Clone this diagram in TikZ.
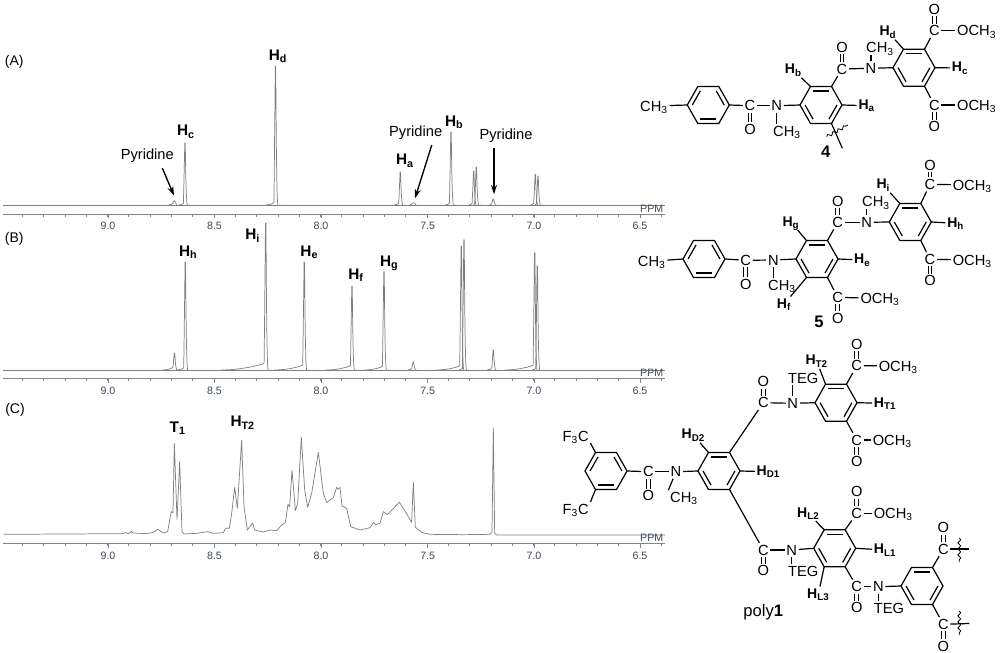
\documentclass[tikz,border=0pt]{standalone}
\usepackage{fontspec}
\setmainfont{Liberation Sans}
\usetikzlibrary{calc,arrows.meta,decorations.pathmorphing}

\definecolor{speccol}{HTML}{808080}
\definecolor{axiscol}{HTML}{858585}
\definecolor{tickcol}{HTML}{3C4856}

\tikzset{
  spec/.style={speccol, line width=.55pt, line join=round},
  axisline/.style={axiscol, line width=.5pt},
  ticklabel/.style={tickcol, inner sep=0pt, font=\fontsize{8}{9}\selectfont},
  panel/.style={inner sep=0pt, font=\fontsize{10.5}{12}\selectfont},
  solvent/.style={inner sep=1pt, font=\fontsize{11}{13}\selectfont},
  peaklabel/.style={inner sep=0pt, font=\bfseries\fontsize{11.5}{13}\selectfont},
  arr/.style={-{Stealth[length=7pt,width=4.5pt]}, line width=1pt, shorten <=3pt},
  bond/.style={line width=.9pt, line join=round},
  dbond/.style={line width=.75pt, double, double distance=2.2pt},
  wavy/.style={line width=.6pt, decorate, decoration={snake, amplitude=1.1pt, segment length=4.5pt}},
  atom/.style={inner sep=1.2pt, text height=7.9pt, text depth=0pt, font=\fontsize{11}{13}\selectfont},
  hatom/.style={inner sep=1.2pt, text height=7.4pt, text depth=1.5pt, font=\bfseries\fontsize{10.5}{12}\selectfont},
  cmpd/.style={inner sep=0pt, font=\fontsize{12.5}{14}\selectfont},
}

% hexagon, vertices a..f run round from the right, m is the middle
\newcommand{\molring}[4]{%
  \coordinate (#1m) at (#2,#3);
  \coordinate (#1a) at (#2+21,#3);
  \coordinate (#1b) at (#2+10.5,#3-18.5);
  \coordinate (#1c) at (#2-10.5,#3-18.5);
  \coordinate (#1d) at (#2-21,#3);
  \coordinate (#1e) at (#2-10.5,#3+18.5);
  \coordinate (#1f) at (#2+10.5,#3+18.5);
  \draw[bond] (#1a) -- (#1b) -- (#1c) -- (#1d) -- (#1e) -- (#1f) -- cycle;
  \foreach \p/\q in {#4}
    \draw[bond] ($(#1m)!.76!(#1\p)$) -- ($(#1m)!.76!(#1\q)$);
}
% one NMR line: x, top, baseline, length of left tail
\newcommand{\nmrpeak}[4]{%
  \pgfmathsetmacro\knee{#3-1.2-.12*#4}
  \draw[spec] (#1-#4,#3) .. controls (#1-.5*#4,#3) and (#1-2.5,\knee+.7) .. (#1-1.6,\knee)
    .. controls (#1-1.1,.7*\knee+.3*#2) and (#1-.6,.3*\knee+.7*#2) .. (#1-.2,#2)
    -- (#1+.2,#2) .. controls (#1+.6,.3*\knee+.7*#2) and (#1+.9,#3-2) .. (#1+2.5,#3+.6) -- (#1+5,#3);
}
% axis under a spectrum: name, y
\newcommand{\ppmaxis}[2]{%
  \draw[axisline] (3,#2) -- (665,#2);
  \foreach \i in {0,...,30}
    \draw[axisline] (22.3+21.3*\i,#2) -- (22.3+21.3*\i,#2+2.5);
  \foreach \v/\t/\n in {108/9.0/90,214.5/8.5/85,321/8.0/80,427.7/7.5/75,534/7.0/70,640/6.5/65}{
    \draw[axisline] (\v,#2) -- (\v,#2+4);
    \node[ticklabel] (#1\n) at (\v,#2+12) {\t};
  }
  \node[ticklabel] (#1ppm) at (651.7,#2-5.5) {PPM};
}

\begin{document}
\begin{tikzpicture}[x=.75pt,y=-.75pt]
\useasboundingbox (0,0) rectangle (1000,653);

%%%----------Spektrum A----------%%%
\draw[spec] (3,205) -- (665,205);
\nmrpeak{174.5}{200.7}{205}{6}
\nmrpeak{185}{143}{205}{6}
\nmrpeak{275.5}{66}{205}{10}
\nmrpeak{400.3}{172}{205}{6}
\nmrpeak{413.7}{202.7}{205}{4}
\nmrpeak{451}{132}{205}{6}
\nmrpeak{473.7}{171}{205}{5}
\nmrpeak{476.3}{167}{205}{3}
\nmrpeak{493.3}{199}{205}{4}
\nmrpeak{535.3}{174.3}{205}{5}
\nmrpeak{538}{176}{205}{3}
\ppmaxis{axa}{214}

\node[panel] (panela) at (14.3,62) {(A)};
\node[peaklabel] (hd) at (278,56) {H\textsubscript{d}};
\node[peaklabel] (hc) at (186,131.7) {H\textsubscript{c}};
\node[peaklabel] (ha) at (405,160.7) {H\textsubscript{a}};
\node[peaklabel] (hb) at (454.3,122.3) {H\textsubscript{b}};
\node[solvent] (pya) at (147.3,156) {Pyridine};
\node[solvent] (pyb) at (415.7,132.7) {Pyridine};
\node[solvent] (pyc) at (506,136) {Pyridine};
\coordinate (pyaend) at (174,195.7);
\coordinate (pybend) at (415,198.3);
\coordinate (pycend) at (494,194.3);
\draw[arr] (pya.-32) -- (pyaend);
\draw[arr] (pyb.-26) -- (pybend);
\draw[arr] (pyc.south -| pycend) -- (pycend);

%%%----------Spektrum B----------%%%
\draw[spec] (3,370) -- (665,370);
\nmrpeak{174.5}{353}{370}{12}
\nmrpeak{185.3}{262}{370}{9}
\nmrpeak{265.7}{223}{370}{45}
\nmrpeak{304.3}{262}{370}{30}
\nmrpeak{352}{286}{370}{26}
\nmrpeak{384}{271.7}{370}{20}
\nmrpeak{413.3}{361.7}{370}{5}
\nmrpeak{461.3}{246}{370}{25}
\nmrpeak{464}{239.7}{370}{5}
\nmrpeak{493.3}{350}{370}{6}
\nmrpeak{534.7}{252.7}{370}{30}
\nmrpeak{537.3}{266}{370}{5}
\ppmaxis{axb}{378.7}

\node[panel] (panelb) at (14.3,239) {(B)};
\node[peaklabel] (hh) at (188.3,252.3) {H\textsubscript{h}};
\node[peaklabel] (hi) at (252.7,235.7) {H\textsubscript{i}};
\node[peaklabel] (he) at (309.3,252.3) {H\textsubscript{e}};
\node[peaklabel] (hf) at (356,275) {H\textsubscript{f}};
\node[peaklabel] (hg) at (389.3,263.3) {H\textsubscript{g}};

%%%----------Spektrum C----------%%%
\begin{scope}[shift={(0,400)},x=.25pt,y=-.25pt]
\draw[spec] plot coordinates {(10,403) (370,401) (376,397) (384,401) (390,399) (394,394) (400,399)
  (440,401) (460,397) (474,388) (490,399) (503,395) (509,360) (514,335) (519,338) (523,130)
  (531,358) (539,185) (546,395) (552,402) (590,400) (622,395) (640,400) (670,398) (677,385)
  (688,385) (695,340) (704,262) (712,325) (725,120) (732,320) (742,390) (758,369) (764,390)
  (790,396) (812,390) (830,392) (845,375) (856,368) (864,313) (869,320) (876,210) (886,332)
  (893,310) (904,112) (914,270) (923,322) (935,280) (955,157) (970,280) (980,308) (990,300)};
\end{scope}
\begin{scope}[shift={(330,400)},x=.25pt,y=-.25pt]
\draw[spec] plot coordinates {(0,300) (10,293) (20,262) (24,268) (30,262) (36,318) (50,325)
  (62,380) (90,390) (120,383) (131,367) (136,374) (150,370) (160,335) (172,344) (208,307)
  (218,322) (232,345) (245,367) (250,247) (256,382) (275,397) (300,403) (400,404) (480,403)
  (486,395) (490,84) (494,400) (500,405) (1005,405)};
\end{scope}
\ppmaxis{axc}{543.7}

\node[panel] (panelc) at (15,410) {(C)};
\node[peaklabel] (t1) at (177.7,428.3) {T\textsubscript{1}};
\node[peaklabel] (ht2) at (242.7,422.7) {H\textsubscript{T2}};

%%%----------Molekyle 4----------%%%
\molring{qt}{708.3}{105}{c/d,a/b,e/f}
\molring{qm}{821}{105}{b/c,f/a,d/e}
\molring{qr}{914}{67.7}{b/c,f/a,d/e}

\node[atom] (qch) at (654,106) {CH\textsubscript{3}};
\node[atom] (qc1) at (750,105.7) {C};
\node[atom] (qo1) at (750,129) {O};
\node[atom] (qn1) at (776.7,105.7) {N};
\node[atom] (qm1) at (787,131) {CH\textsubscript{3}};
\node[atom] (qc2) at (842,69) {C};
\node[atom] (qo2) at (842,47.3) {O};
\node[atom] (qn2) at (871,68.3) {N};
\node[atom] (qm2) at (880,47.7) {CH\textsubscript{3}};
\node[atom] (qc3) at (934.3,30.7) {C};
\node[atom] (qo3) at (934.3,9.3) {O};
\node[atom] (qx3) at (976.7,30.7) {OCH\textsubscript{3}};
\node[atom] (qc4) at (934.3,105) {C};
\node[atom] (qo4) at (934.3,126.7) {O};
\node[atom] (qx4) at (976.7,105) {OCH\textsubscript{3}};
\node[hatom] (qhd) at (888,32) {H\textsubscript{d}};
\node[hatom] (qhc) at (960,68) {H\textsubscript{c}};
\node[hatom] (qhb) at (793.3,70) {H\textsubscript{b}};
\node[hatom] (qha) at (866.7,105.7) {H\textsubscript{a}};
\node[cmpd,font=\bfseries\fontsize{12.5}{14}\selectfont] (qlab) at (825.7,151.7) {4};
\coordinate (qcut) at (842.3,148.3);
\coordinate (qwa) at (826.7,136.7);
\coordinate (qwb) at (848,125);

\draw[bond] (qch) -- (qtd);
\draw[bond] (qta) -- (qc1);
\draw[dbond] (qc1) -- (qo1);
\draw[bond] (qc1) -- (qn1);
\draw[bond] (qn1) -- (qmd);
\draw[bond] (qn1) -- (qn1 |- qm1.north);
\draw[bond] (qmb) -- (qc2);
\draw[dbond] (qc2) -- (qo2);
\draw[bond] (qc2) -- (qn2);
\draw[bond] (qn2) -- (qn2 |- qm2.south);
\draw[bond] (qn2) -- (qrd);
\draw[bond] (qrb) -- (qc3);
\draw[dbond] (qc3) -- (qo3);
\draw[bond] (qc3) -- (qx3);
\draw[bond] (qrf) -- (qc4);
\draw[dbond] (qc4) -- (qo4);
\draw[bond] (qc4) -- (qx4);
\draw[bond] (qrc) -- (qhd);
\draw[bond] (qra) -- (qhc);
\draw[bond] (qmc) -- (qhb);
\draw[bond] (qma) -- (qha);
\draw[bond] (qmf) -- (qcut);
\draw[wavy] (qwa) -- (qwb);

%%%----------Molekyle 5----------%%%
\molring{ft}{704}{259}{c/d,a/b,e/f}
\molring{fm}{817}{259}{b/c,f/a,d/e}
\molring{fr}{910.3}{222}{b/c,f/a,d/e}

\node[atom] (fch) at (651.7,261.3) {CH\textsubscript{3}};
\node[atom] (fc1) at (745.7,260.3) {C};
\node[atom] (fo1) at (745.7,284) {O};
\node[atom] (fn1) at (773.3,260) {N};
\node[atom] (fm1) at (782,285) {CH\textsubscript{3}};
\node[atom] (fc2) at (837.7,222.3) {C};
\node[atom] (fo2) at (837.7,201) {O};
\node[atom] (fn2) at (866.7,222.3) {N};
\node[atom] (fm2) at (876,201.7) {CH\textsubscript{3}};
\node[atom] (fc3) at (930,184.3) {C};
\node[atom] (fo3) at (930,165) {O};
\node[atom] (fx3) at (972.3,185) {OCH\textsubscript{3}};
\node[atom] (fc4) at (930,259.3) {C};
\node[atom] (fo4) at (930,280.7) {O};
\node[atom] (fx4) at (972.3,260) {OCH\textsubscript{3}};
\node[atom] (fc5) at (837.7,297.3) {C};
\node[atom] (fo5) at (837.7,318.3) {O};
\node[atom] (fx5) at (880,298.5) {OCH\textsubscript{3}};
\node[hatom] (fhg) at (791,222.3) {H\textsubscript{g}};
\node[hatom] (fhe) at (862.3,260) {H\textsubscript{e}};
\node[hatom] (fhf) at (784,304.3) {H\textsubscript{f}};
\node[hatom] (fhi) at (883.3,185) {H\textsubscript{i}};
\node[hatom] (fhh) at (955.7,223.3) {H\textsubscript{h}};
\node[cmpd,font=\bfseries\fontsize{12.5}{14}\selectfont] (flab) at (819,321.7) {5};

\draw[bond] (fch) -- (ftd);
\draw[bond] (fta) -- (fc1);
\draw[dbond] (fc1) -- (fo1);
\draw[bond] (fc1) -- (fn1);
\draw[bond] (fn1) -- (fmd);
\draw[bond] (fn1) -- (fn1 |- fm1.north);
\draw[bond] (fmb) -- (fc2);
\draw[dbond] (fc2) -- (fo2);
\draw[bond] (fc2) -- (fn2);
\draw[bond] (fn2) -- (fn2 |- fm2.south);
\draw[bond] (fn2) -- (frd);
\draw[bond] (frb) -- (fc3);
\draw[dbond] (fc3) -- (fo3);
\draw[bond] (fc3) -- (fx3);
\draw[bond] (frf) -- (fc4);
\draw[dbond] (fc4) -- (fo4);
\draw[bond] (fc4) -- (fx4);
\draw[bond] (fmf) -- (fc5);
\draw[dbond] (fc5) -- (fo5);
\draw[bond] (fc5) -- (fx5);
\draw[bond] (fmc) -- (fhg);
\draw[bond] (fma) -- (fhe);
\draw[bond] (fme) -- (fhf);
\draw[bond] (frc) -- (fhi);
\draw[bond] (fra) -- (fhh);

%%%----------poly1----------%%%
\molring{pt}{606}{471}{c/d,a/b,e/f}
\molring{pm}{719}{471}{b/c,f/a,d/e}
\molring{pu}{836}{402.7}{b/c,f/a,d/e}
\molring{pl}{834.7}{548.3}{b/c,f/a,d/e}
\molring{pe}{922}{586}{b/c,f/a,d/e}

\node[atom] (pf1) at (575.7,436) {F\textsubscript{3}C};
\node[atom] (pf2) at (575.7,509) {F\textsubscript{3}C};
\node[atom] (pc1) at (648.3,471.7) {C};
\node[atom] (po1) at (648.3,495.7) {O};
\node[atom] (pn1) at (676,471.7) {N};
\node[atom] (pm1) at (684,497.3) {CH\textsubscript{3}};
\node[hatom] (phd2) at (693.3,435) {H\textsubscript{D2}};
\node[hatom] (phd1) at (768.3,471.7) {H\textsubscript{D1}};
% oberer Zweig
\node[atom] (pc2) at (763.3,402.7) {C};
\node[atom] (po2) at (763.3,381.7) {O};
\node[atom] (pn2) at (792.7,403.3) {N};
\node[atom] (pg2) at (803.3,378.3) {TEG};
\node[hatom] (pht2) at (816.7,361) {H\textsubscript{T2}};
\node[hatom] (pht1) at (885,403.3) {H\textsubscript{T1}};
\node[atom] (pc3) at (856.7,365.7) {C};
\node[atom] (po3) at (856.7,344.3) {O};
\node[atom] (px3) at (898.3,366) {OCH\textsubscript{3}};
\node[atom] (pc4) at (856.7,440) {C};
\node[atom] (po4) at (856.7,461.7) {O};
\node[atom] (px4) at (892.3,440) {OCH\textsubscript{3}};
% unterer Zweig
\node[atom] (pc5) at (763.3,550) {C};
\node[atom] (po5) at (763.3,570.7) {O};
\node[atom] (pn5) at (791.7,550) {N};
\node[atom] (pg5) at (803.3,571) {TEG};
\node[hatom] (phl2) at (808.3,513.3) {H\textsubscript{L2}};
\node[hatom] (phl1) at (885,550) {H\textsubscript{L1}};
\node[hatom] (phl3) at (818.3,594.3) {H\textsubscript{L3}};
\node[atom] (pc6) at (856.7,513.3) {C};
\node[atom] (po6) at (856.7,491.7) {O};
\node[atom] (px6) at (893.3,513.3) {OCH\textsubscript{3}};
\node[atom] (pc7) at (856.7,586.7) {C};
\node[atom] (po7) at (856.7,607.7) {O};
\node[atom] (pn7) at (878.3,586.7) {N};
\node[atom] (pg7) at (889,608.3) {TEG};
\node[atom] (pc8) at (943.3,549) {C};
\node[atom] (po8) at (943.3,527.7) {O};
\node[atom] (pc9) at (943.3,624.3) {C};
\node[atom] (po9) at (943.3,646) {O};
\node[cmpd] (plab) at (763.3,611.7) {poly\textbf{1}};
\coordinate (pe8) at (969.3,549);
\coordinate (pe9) at (969.3,623.5);
\coordinate (pw8a) at (959.3,538);
\coordinate (pw8b) at (959.3,562);
\coordinate (pw9a) at (959.3,611);
\coordinate (pw9b) at (959.3,635);

\draw[bond] (ptc) -- (pf1.south east);
\draw[bond] (pte) -- (pf2.north east);
\draw[bond] (pta) -- (pc1);
\draw[dbond] (pc1) -- (po1);
\draw[bond] (pc1) -- (pn1);
\draw[bond] (pn1) -- (pmd);
\draw[bond] (pn1) -- (pm1.north west);
\draw[bond] (pmc) -- (phd2);
\draw[bond] (pma) -- (phd1);
\draw[bond] (pmb) -- (pc2);
\draw[dbond] (pc2) -- (po2);
\draw[bond] (pc2) -- (pn2);
\draw[bond] (pn2) -- (pn2 |- pg2.south);
\draw[bond] (pn2) -- (pud);
\draw[bond] (puc) -- (pht2);
\draw[bond] (pua) -- (pht1);
\draw[bond] (pub) -- (pc3);
\draw[dbond] (pc3) -- (po3);
\draw[bond] (pc3) -- (px3);
\draw[bond] (puf) -- (pc4);
\draw[dbond] (pc4) -- (po4);
\draw[bond] (pc4) -- (px4);
\draw[bond] (pmf) -- (pc5);
\draw[dbond] (pc5) -- (po5);
\draw[bond] (pc5) -- (pn5);
\draw[bond] (pn5) -- (pn5 |- pg5.north);
\draw[bond] (pn5) -- (pld);
\draw[bond] (plc) -- (phl2);
\draw[bond] (pla) -- (phl1);
\draw[bond] (ple) -- (phl3);
\draw[bond] (plb) -- (pc6);
\draw[dbond] (pc6) -- (po6);
\draw[bond] (pc6) -- (px6);
\draw[bond] (plf) -- (pc7);
\draw[dbond] (pc7) -- (po7);
\draw[bond] (pc7) -- (pn7);
\draw[bond] (pn7) -- (pn7 |- pg7.north);
\draw[bond] (pn7) -- (ped);
\draw[bond] (peb) -- (pc8);
\draw[dbond] (pc8) -- (po8);
\draw[bond] (pc8) -- (pe8);
\draw[wavy] (pw8a) -- (pw8b);
\draw[bond] (pef) -- (pc9);
\draw[dbond] (pc9) -- (po9);
\draw[bond] (pc9) -- (pe9);
\draw[wavy] (pw9a) -- (pw9b);
\end{tikzpicture}
\end{document}
